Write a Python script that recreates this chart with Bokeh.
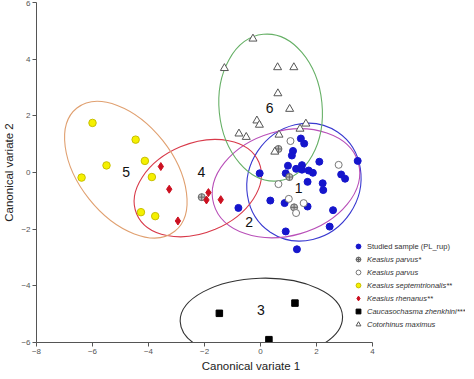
from bokeh.plotting import figure
from bokeh.models import Range1d, FixedTicker, Legend, LegendItem
from bokeh.embed import file_html
from bokeh.resources import INLINE
from bokeh.core.properties import value

# ---- data ----
studied_x = [1.44, 1.56, 1.16, 1.12, 2.10, 3.47, 0.98, 1.27, 1.48, 1.48, 1.72, 1.87, -0.03, 0.90,
             2.88, 3.02, 1.68, 2.22, 2.24, 0.35, 0.86, 1.68, 2.59, -0.79, 0.90, 2.47, 1.30]
studied_y = [1.20, 1.02, 0.76, 0.60, 0.38, 0.41, 0.24, 0.13, 0.26, 0.10, 0.07, -0.01, -0.03, -0.03,
             -0.07, -0.22, -0.33, -0.38, -0.62, -0.99, -1.08, -1.20, -1.33, -1.25, -2.08, -1.91, -2.71]

parvus_star_x = [0.64, 1.03, 1.20, -2.10]
parvus_star_y = [0.83, -0.16, -1.23, -0.87]

parvus_x = [1.07, 2.79, 0.64, 1.01, 1.54, 1.27]
parvus_y = [1.11, 0.27, -0.41, -0.93, -1.08, -1.43]

sept_x = [-6.00, -4.46, -5.50, -4.13, -6.39, -3.88, -4.27, -3.76]
sept_y = [1.75, 1.16, 0.25, 0.41, -0.18, -0.16, -1.40, -1.54]

rhen_x = [-3.56, -3.26, -2.95, -1.86, -1.93, -1.42]
rhen_y = [0.21, -0.59, -1.71, -0.71, -0.97, -0.96]

cauc_x = [-1.47, 1.23, 0.30]
cauc_y = [-4.97, -4.61, -5.90]

coto_x = [-0.27, -1.29, 0.61, 1.19, 0.62, 1.04, -0.13, -0.04, -0.77, -0.51, 1.62, 1.41, 0.66, 0.51]
coto_y = [4.72, 3.68, 3.71, 3.71, 2.79, 2.24, 1.83, 1.68, 1.37, 1.25, 1.72, 1.54, 1.33, 0.73]

# confidence ellipses of the groups
group_labels = ["1", "2", "3", "4", "5", "6"]
ell_x = [1.55, 0.91, 0.03, -2.24, -4.81, 0.36]
ell_y = [-0.34, -0.38, -5.17, -0.55, 0.10, 2.29]
ell_w = [4.31, 5.37, 5.80, 4.74, 5.62, 3.68]
ell_h = [3.93, 3.70, 2.88, 3.16, 3.32, 5.20]
ell_angle = [0.98, 0.28, 0.03, 0.40, -0.90, 0.10]
ell_color = ["#3a3ad0", "#b84fb8", "#333333", "#d83a4a", "#e0a070", "#66b066"]

label_x = [1.36, -0.41, 0.01, -2.11, -4.80, 0.33]
label_y = [-0.55, -1.73, -4.87, 0.02, 0.01, 2.27]

x_ticks = [-8, -6, -4, -2, 0, 2, 4]
y_ticks = [-6, -4, -2, 0, 2, 4, 6]

FONT = "Liberation Sans"

p = figure(frame_width=429, frame_height=340,
           x_range=Range1d(-8, 7.32), y_range=Range1d(-6, 6),
           output_backend="svg", toolbar_location=None,
           min_border_top=2, min_border_right=0, min_border_left=0, min_border_bottom=0)

p.xgrid.grid_line_color = None
p.ygrid.grid_line_color = None
p.outline_line_color = None
p.background_fill_color = "white"

p.xaxis.ticker = FixedTicker(ticks=x_ticks)
p.yaxis.ticker = FixedTicker(ticks=y_ticks)
p.xaxis.bounds = (-8, 4)
p.xaxis.axis_label = "Canonical variate 1"
p.yaxis.axis_label = "Canonical variate 2"
for ax in (p.xaxis, p.yaxis):
    ax.minor_tick_line_color = None
    ax.major_tick_out = 4
    ax.major_tick_in = 0
    ax.axis_line_color = "#555555"
    ax.major_tick_line_color = "#555555"
    ax.major_label_text_font_size = "8px"
    ax.major_label_text_color = "#555555"
    ax.major_label_text_font = FONT
    ax.major_label_standoff = 2
    ax.axis_label_text_font = FONT
    ax.axis_label_text_font_size = "11.5px"
    ax.axis_label_text_font_style = "normal"
    ax.axis_label_text_color = "#222222"
    ax.axis_label_standoff = 3

# ellipses
p.ellipse(x=ell_x, y=ell_y, width=ell_w, height=ell_h, angle=ell_angle,
          fill_color=None, line_color=ell_color, line_width=1.1)

# group numbers
p.text(x=label_x, y=label_y, text=group_labels, text_align="center", text_baseline="middle",
       text_font=value(FONT), text_font_size="14px", text_color="#111111")

# points
r_studied = p.scatter(studied_x, studied_y, marker="circle", size=7,
                      fill_color="#1515cc", line_color="#1515cc")
r_pstar = p.scatter(parvus_star_x, parvus_star_y, marker="circle_cross", size=7,
                    fill_color="#c0c0c0", line_color="#666666")
r_parvus = p.scatter(parvus_x, parvus_y, marker="circle", size=7,
                     fill_color="white", line_color="#777777")
r_sept = p.scatter(sept_x, sept_y, marker="circle", size=7.5,
                   fill_color="#f5f000", line_color="#c8c000")
r_rhen = p.scatter(rhen_x, rhen_y, marker="diamond", size=8,
                   fill_color="#cc1020", line_color="#cc1020")
r_cauc = p.scatter(cauc_x, cauc_y, marker="square", size=6.5,
                   fill_color="black", line_color="black")
r_coto = p.scatter(coto_x, coto_y, marker="triangle", size=8,
                   fill_color="white", line_color="#555555")

common = dict(padding=0, margin=0, spacing=1, border_line_color=None,
              background_fill_alpha=0, label_height=12, glyph_height=12, glyph_width=12,
              label_standoff=3, label_text_font_size="7.5px", label_text_color="#333333",
              label_text_font=FONT)

legA = Legend(items=[LegendItem(label="Studied sample (PL_rup)", renderers=[r_studied])],
              location=(316, 90), **common)
legB = Legend(items=[
    LegendItem(label="Keasius parvus*", renderers=[r_pstar]),
    LegendItem(label="Keasius parvus", renderers=[r_parvus]),
    LegendItem(label="Keasius septemtrionalis**", renderers=[r_sept]),
    LegendItem(label="Keasius rhenanus**", renderers=[r_rhen]),
    LegendItem(label="Caucasochasma zhenkhini***", renderers=[r_cauc]),
    LegendItem(label="Cotorhinus maximus", renderers=[r_coto]),
], location=(316, 12), label_text_font_style="italic", **common)
p.add_layout(legA)
p.add_layout(legB)

open("out.html", "w").write(file_html(p, INLINE))
